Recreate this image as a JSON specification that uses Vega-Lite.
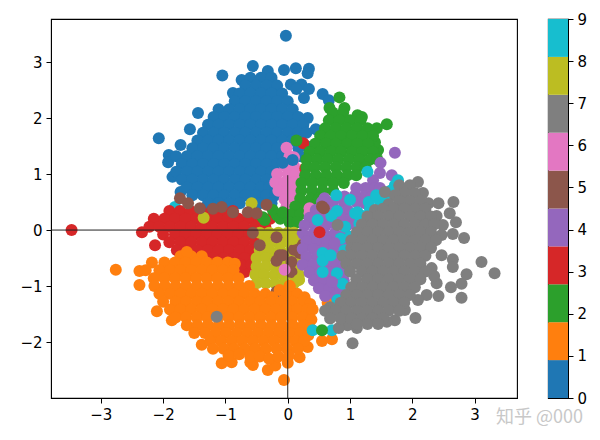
{"$schema":"https://vega.github.io/schema/vega-lite/v6.json","padding":{"left":19,"top":11,"right":0,"bottom":0},"background":"white","spacing":29,"title":{"text":"知乎 @000","orient":"bottom","anchor":"end","font":"Noto Sans CJK SC","fontSize":18,"fontWeight":"normal","color":"#c8c8c8","offset":-14,"dx":-4,"frame":"bounds"},"config":{"view":{"stroke":"#000","strokeWidth":1.1},"axis":{"grid":false,"labelFont":"DejaVu Sans","labelFontSize":15,"labelColor":"#000","tickColor":"#000","domainColor":"#000","tickSize":5,"labelPadding":4,"title":null}},"hconcat":[{"width":466,"height":379,"layer":[{"mark":{"type":"point","filled":true,"size":144,"opacity":1},"data":{"values":[
{"x":-0.03,"y":3.47,"c":0},{"x":-1.05,"y":2.76,"c":0},{"x":-0.56,"y":2.93,"c":0},{"x":-0.32,"y":2.84,"c":0},{"x":-0.06,"y":2.86,"c":0},{"x":-0.74,"y":2.68,"c":0},{"x":-0.88,"y":2.45,"c":0},{"x":-1.44,"y":2.09,"c":0},{"x":-1.57,"y":1.8,"c":0},{"x":-2.07,"y":1.64,"c":0},{"x":-1.72,"y":1.52,"c":0},{"x":-1.91,"y":1.34,"c":0},{"x":-1.92,"y":1.21,"c":0},{"x":-1.85,"y":0.95,"c":0},{"x":-1.72,"y":0.68,"c":0},{"x":0.13,"y":2.89,"c":0},{"x":0.34,"y":2.88,"c":0},{"x":0.32,"y":2.8,"c":0},{"x":0.05,"y":2.6,"c":0},{"x":0.22,"y":2.6,"c":0},{"x":0.34,"y":2.52,"c":0},{"x":0.26,"y":2.36,"c":0},{"x":0.14,"y":2.52,"c":0},{"x":0.56,"y":2.43,"c":0},{"x":0.66,"y":2.32,"c":0},{"x":0.32,"y":2.0,"c":0},{"x":0.45,"y":1.8,"c":0},{"x":0.3,"y":1.5,"c":0},
{"x":-0.6,"y":2.72,"c":0},{"x":-0.43,"y":2.72,"c":0},{"x":-0.26,"y":2.72,"c":0},
{"x":-0.68,"y":2.58,"c":0},{"x":-0.51,"y":2.58,"c":0},{"x":-0.34,"y":2.58,"c":0},{"x":-0.17,"y":2.58,"c":0},
{"x":-0.77,"y":2.44,"c":0},{"x":-0.6,"y":2.44,"c":0},{"x":-0.43,"y":2.44,"c":0},{"x":-0.26,"y":2.44,"c":0},{"x":-0.09,"y":2.44,"c":0},
{"x":-0.85,"y":2.3,"c":0},{"x":-0.68,"y":2.3,"c":0},{"x":-0.51,"y":2.3,"c":0},{"x":-0.34,"y":2.3,"c":0},{"x":-0.17,"y":2.3,"c":0},{"x":0,"y":2.3,"c":0},
{"x":-1.11,"y":2.16,"c":0},{"x":-0.94,"y":2.16,"c":0},{"x":-0.77,"y":2.16,"c":0},{"x":-0.6,"y":2.16,"c":0},{"x":-0.43,"y":2.16,"c":0},{"x":-0.26,"y":2.16,"c":0},{"x":-0.09,"y":2.16,"c":0},{"x":0.08,"y":2.16,"c":0},
{"x":-1.19,"y":2.02,"c":0},{"x":-1.02,"y":2.02,"c":0},{"x":-0.85,"y":2.02,"c":0},{"x":-0.68,"y":2.02,"c":0},{"x":-0.51,"y":2.02,"c":0},{"x":-0.34,"y":2.02,"c":0},{"x":-0.17,"y":2.02,"c":0},{"x":0,"y":2.02,"c":0},{"x":0.17,"y":2.02,"c":0},
{"x":-1.28,"y":1.88,"c":0},{"x":-1.11,"y":1.88,"c":0},{"x":-0.94,"y":1.88,"c":0},{"x":-0.77,"y":1.88,"c":0},{"x":-0.6,"y":1.88,"c":0},{"x":-0.43,"y":1.88,"c":0},{"x":-0.26,"y":1.88,"c":0},{"x":-0.09,"y":1.88,"c":0},{"x":0.08,"y":1.88,"c":0},{"x":0.25,"y":1.88,"c":0},
{"x":-1.36,"y":1.74,"c":0},{"x":-1.19,"y":1.74,"c":0},{"x":-1.02,"y":1.74,"c":0},{"x":-0.85,"y":1.74,"c":0},{"x":-0.68,"y":1.74,"c":0},{"x":-0.51,"y":1.74,"c":0},{"x":-0.34,"y":1.74,"c":0},{"x":-0.17,"y":1.74,"c":0},{"x":0,"y":1.74,"c":0},{"x":0.17,"y":1.74,"c":0},{"x":0.3,"y":1.74,"c":0},
{"x":-1.45,"y":1.6,"c":0},{"x":-1.28,"y":1.6,"c":0},{"x":-1.11,"y":1.6,"c":0},{"x":-0.94,"y":1.6,"c":0},{"x":-0.77,"y":1.6,"c":0},{"x":-0.6,"y":1.6,"c":0},{"x":-0.43,"y":1.6,"c":0},{"x":-0.26,"y":1.6,"c":0},{"x":-0.09,"y":1.6,"c":0},{"x":0.08,"y":1.6,"c":0},{"x":0.2,"y":1.6,"c":0},
{"x":-1.53,"y":1.46,"c":0},{"x":-1.36,"y":1.46,"c":0},{"x":-1.19,"y":1.46,"c":0},{"x":-1.02,"y":1.46,"c":0},{"x":-0.85,"y":1.46,"c":0},{"x":-0.68,"y":1.46,"c":0},{"x":-0.51,"y":1.46,"c":0},{"x":-0.34,"y":1.46,"c":0},{"x":-0.17,"y":1.46,"c":0},{"x":0.17,"y":1.46,"c":0},
{"x":-1.79,"y":1.32,"c":0},{"x":-1.62,"y":1.32,"c":0},{"x":-1.45,"y":1.32,"c":0},{"x":-1.28,"y":1.32,"c":0},{"x":-1.11,"y":1.32,"c":0},{"x":-0.94,"y":1.32,"c":0},{"x":-0.77,"y":1.32,"c":0},{"x":-0.6,"y":1.32,"c":0},{"x":-0.43,"y":1.32,"c":0},{"x":-0.26,"y":1.32,"c":0},{"x":-0.09,"y":1.32,"c":0},{"x":0.2,"y":1.32,"c":0},
{"x":-1.7,"y":1.18,"c":0},{"x":-1.53,"y":1.18,"c":0},{"x":-1.36,"y":1.18,"c":0},{"x":-1.19,"y":1.18,"c":0},{"x":-1.02,"y":1.18,"c":0},{"x":-0.85,"y":1.18,"c":0},{"x":-0.68,"y":1.18,"c":0},{"x":-0.51,"y":1.18,"c":0},{"x":-0.34,"y":1.18,"c":0},{"x":-0.17,"y":1.18,"c":0},
{"x":-1.79,"y":1.04,"c":0},{"x":-1.62,"y":1.04,"c":0},{"x":-1.45,"y":1.04,"c":0},{"x":-1.28,"y":1.04,"c":0},{"x":-1.11,"y":1.04,"c":0},{"x":-0.94,"y":1.04,"c":0},{"x":-0.77,"y":1.04,"c":0},{"x":-0.6,"y":1.04,"c":0},{"x":-0.43,"y":1.04,"c":0},{"x":-0.26,"y":1.04,"c":0},
{"x":-1.7,"y":0.9,"c":0},{"x":-1.53,"y":0.9,"c":0},{"x":-1.36,"y":0.9,"c":0},{"x":-1.19,"y":0.9,"c":0},{"x":-1.02,"y":0.9,"c":0},{"x":-0.85,"y":0.9,"c":0},{"x":-0.68,"y":0.9,"c":0},{"x":-0.51,"y":0.9,"c":0},{"x":-0.34,"y":0.9,"c":0},
{"x":-1.62,"y":0.76,"c":0},{"x":-1.45,"y":0.76,"c":0},{"x":-1.28,"y":0.76,"c":0},{"x":-1.11,"y":0.76,"c":0},{"x":-0.94,"y":0.76,"c":0},{"x":-0.77,"y":0.76,"c":0},{"x":-0.6,"y":0.76,"c":0},{"x":-0.43,"y":0.76,"c":0},{"x":-0.3,"y":0.76,"c":0},
{"x":-1.53,"y":0.62,"c":0},{"x":-1.36,"y":0.62,"c":0},{"x":-1.19,"y":0.62,"c":0},{"x":-1.02,"y":0.62,"c":0},{"x":-0.85,"y":0.62,"c":0},{"x":-0.68,"y":0.62,"c":0},{"x":-0.51,"y":0.62,"c":0},{"x":-0.34,"y":0.62,"c":0},{"x":-0.2,"y":0.62,"c":0},
{"x":-1.28,"y":0.48,"c":0},{"x":-1.11,"y":0.48,"c":0},{"x":-0.94,"y":0.48,"c":0},{"x":-0.77,"y":0.48,"c":0},{"x":-0.45,"y":0.48,"c":0},{"x":-0.26,"y":0.48,"c":0},
{"x":-0.02,"y":1.47,"c":6},{"x":0.03,"y":1.32,"c":6},{"x":0.1,"y":1.3,"c":6},{"x":-0.05,"y":1.15,"c":6},{"x":0.1,"y":1.15,"c":6},{"x":-0.17,"y":1.0,"c":6},{"x":0,"y":1.0,"c":6},{"x":0.13,"y":1.0,"c":6},{"x":-0.2,"y":0.85,"c":6},{"x":-0.05,"y":0.85,"c":6},{"x":0.1,"y":0.85,"c":6},{"x":-0.15,"y":0.7,"c":6},{"x":0,"y":0.7,"c":6},{"x":0.12,"y":0.7,"c":6},{"x":-0.05,"y":0.55,"c":6},{"x":0.05,"y":0.55,"c":6},{"x":0.14,"y":0.5,"c":6},{"x":-0.02,"y":0.42,"c":6},
{"x":-1.81,"y":0.41,"c":9},
{"x":-3.47,"y":0,"c":3},{"x":-2.34,"y":-0.04,"c":3},{"x":-2.13,"y":-0.27,"c":3},{"x":-0.69,"y":-0.75,"c":3},
{"x":-1.9,"y":0.34,"c":3},{"x":-1.73,"y":0.34,"c":3},{"x":-1.56,"y":0.34,"c":3},{"x":-1.39,"y":0.34,"c":3},{"x":-1.22,"y":0.34,"c":3},{"x":-1.05,"y":0.34,"c":3},{"x":-0.88,"y":0.34,"c":3},
{"x":-2.15,"y":0.2,"c":3},{"x":-1.98,"y":0.2,"c":3},{"x":-1.81,"y":0.2,"c":3},{"x":-1.64,"y":0.2,"c":3},{"x":-1.47,"y":0.2,"c":3},{"x":-1.3,"y":0.2,"c":3},{"x":-1.13,"y":0.2,"c":3},{"x":-0.96,"y":0.2,"c":3},{"x":-0.79,"y":0.2,"c":3},{"x":-0.62,"y":0.2,"c":3},{"x":-0.45,"y":0.2,"c":3},{"x":-0.28,"y":0.2,"c":3},
{"x":-2.22,"y":0.06,"c":3},{"x":-2.06,"y":0.06,"c":3},{"x":-1.89,"y":0.06,"c":3},{"x":-1.72,"y":0.06,"c":3},{"x":-1.55,"y":0.06,"c":3},{"x":-1.38,"y":0.06,"c":3},{"x":-1.21,"y":0.06,"c":3},{"x":-1.04,"y":0.06,"c":3},{"x":-0.87,"y":0.06,"c":3},{"x":-0.7,"y":0.06,"c":3},{"x":-0.53,"y":0.06,"c":3},{"x":-0.36,"y":0.06,"c":3},
{"x":-2.0,"y":-0.08,"c":3},{"x":-1.81,"y":-0.08,"c":3},{"x":-1.64,"y":-0.08,"c":3},{"x":-1.47,"y":-0.08,"c":3},{"x":-1.3,"y":-0.08,"c":3},{"x":-1.13,"y":-0.08,"c":3},{"x":-0.96,"y":-0.08,"c":3},{"x":-0.79,"y":-0.08,"c":3},{"x":-0.62,"y":-0.08,"c":3},{"x":-0.45,"y":-0.08,"c":3},
{"x":-1.9,"y":-0.22,"c":3},{"x":-1.72,"y":-0.22,"c":3},{"x":-1.55,"y":-0.22,"c":3},{"x":-1.38,"y":-0.22,"c":3},{"x":-1.21,"y":-0.22,"c":3},{"x":-1.04,"y":-0.22,"c":3},{"x":-0.87,"y":-0.22,"c":3},{"x":-0.7,"y":-0.22,"c":3},{"x":-0.53,"y":-0.22,"c":3},{"x":-0.36,"y":-0.22,"c":3},
{"x":-1.78,"y":-0.36,"c":3},{"x":-1.62,"y":-0.36,"c":3},{"x":-1.45,"y":-0.36,"c":3},{"x":-1.28,"y":-0.36,"c":3},{"x":-1.11,"y":-0.36,"c":3},{"x":-0.94,"y":-0.36,"c":3},{"x":-0.77,"y":-0.36,"c":3},{"x":-0.6,"y":-0.36,"c":3},{"x":-0.43,"y":-0.36,"c":3},
{"x":-1.2,"y":-0.5,"c":3},{"x":-1.03,"y":-0.5,"c":3},{"x":-0.86,"y":-0.5,"c":3},{"x":-0.69,"y":-0.5,"c":3},{"x":-0.52,"y":-0.5,"c":3},{"x":-0.75,"y":-0.62,"c":3},{"x":-0.58,"y":-0.62,"c":3},
{"x":0.25,"y":1.55,"c":3},{"x":0.28,"y":1.1,"c":3},
{"x":0.83,"y":2.37,"c":2},{"x":0.67,"y":2.18,"c":2},{"x":0.91,"y":2.18,"c":2},{"x":1.12,"y":2.05,"c":2},{"x":1.19,"y":2.02,"c":2},{"x":1.59,"y":1.89,"c":2},{"x":1.43,"y":1.82,"c":2},{"x":1.45,"y":1.43,"c":2},{"x":1.4,"y":1.57,"c":2},
{"x":0.72,"y":2.1,"c":2},{"x":0.89,"y":2.1,"c":2},
{"x":0.66,"y":1.96,"c":2},{"x":0.83,"y":1.96,"c":2},{"x":1.0,"y":1.96,"c":2},{"x":1.17,"y":1.96,"c":2},
{"x":0.6,"y":1.82,"c":2},{"x":0.77,"y":1.82,"c":2},{"x":0.94,"y":1.82,"c":2},{"x":1.11,"y":1.82,"c":2},{"x":1.28,"y":1.82,"c":2},
{"x":0.52,"y":1.68,"c":2},{"x":0.69,"y":1.68,"c":2},{"x":0.86,"y":1.68,"c":2},{"x":1.03,"y":1.68,"c":2},{"x":1.2,"y":1.68,"c":2},{"x":1.37,"y":1.68,"c":2},
{"x":0.44,"y":1.54,"c":2},{"x":0.61,"y":1.54,"c":2},{"x":0.78,"y":1.54,"c":2},{"x":0.95,"y":1.54,"c":2},{"x":1.12,"y":1.54,"c":2},{"x":1.29,"y":1.54,"c":2},
{"x":0.35,"y":1.4,"c":2},{"x":0.52,"y":1.4,"c":2},{"x":0.69,"y":1.4,"c":2},{"x":0.86,"y":1.4,"c":2},{"x":1.03,"y":1.4,"c":2},{"x":1.2,"y":1.4,"c":2},{"x":1.37,"y":1.4,"c":2},
{"x":0.3,"y":1.26,"c":2},{"x":0.47,"y":1.26,"c":2},{"x":0.64,"y":1.26,"c":2},{"x":0.81,"y":1.26,"c":2},{"x":0.98,"y":1.26,"c":2},{"x":1.15,"y":1.26,"c":2},{"x":1.32,"y":1.26,"c":2},{"x":1.44,"y":1.26,"c":2},
{"x":0.3,"y":1.12,"c":2},{"x":0.43,"y":1.12,"c":2},{"x":0.6,"y":1.12,"c":2},{"x":0.77,"y":1.12,"c":2},{"x":0.94,"y":1.12,"c":2},{"x":1.11,"y":1.12,"c":2},{"x":1.25,"y":1.12,"c":2},
{"x":0.28,"y":0.98,"c":2},{"x":0.45,"y":0.98,"c":2},{"x":0.62,"y":0.98,"c":2},{"x":0.79,"y":0.98,"c":2},{"x":0.96,"y":0.98,"c":2},{"x":1.1,"y":0.98,"c":2},
{"x":0.22,"y":0.84,"c":2},{"x":0.39,"y":0.84,"c":2},{"x":0.56,"y":0.84,"c":2},{"x":0.73,"y":0.84,"c":2},{"x":0.9,"y":0.84,"c":2},
{"x":0.22,"y":0.7,"c":2},{"x":0.39,"y":0.7,"c":2},{"x":0.56,"y":0.7,"c":2},{"x":0.73,"y":0.7,"c":2},
{"x":0.2,"y":0.56,"c":2},{"x":0.37,"y":0.56,"c":2},{"x":0.5,"y":0.56,"c":2},
{"x":0.12,"y":0.42,"c":2},{"x":0.29,"y":0.42,"c":2},{"x":0.42,"y":0.42,"c":2},{"x":0.05,"y":0.28,"c":2},{"x":0.2,"y":0.28,"c":2},{"x":0.03,"y":0.14,"c":2},{"x":0.15,"y":0.14,"c":2},
{"x":0.14,"y":1.6,"c":2},{"x":-0.24,"y":0.36,"c":2},{"x":-0.4,"y":0.23,"c":2},{"x":-0.37,"y":0.18,"c":2},{"x":-0.18,"y":0.27,"c":2},{"x":-0.12,"y":0.2,"c":2},{"x":-0.08,"y":0.32,"c":2},
{"x":-1.35,"y":0.22,"c":8},{"x":-0.58,"y":0.48,"c":8},
{"x":-0.45,"y":-0.05,"c":8},{"x":-0.3,"y":-0.05,"c":8},{"x":-0.15,"y":-0.05,"c":8},{"x":0,"y":-0.05,"c":8},{"x":0.1,"y":-0.05,"c":8},
{"x":-0.37,"y":-0.2,"c":8},{"x":-0.2,"y":-0.2,"c":8},{"x":-0.03,"y":-0.2,"c":8},{"x":0.12,"y":-0.2,"c":8},
{"x":-0.45,"y":-0.35,"c":8},{"x":-0.3,"y":-0.35,"c":8},{"x":-0.13,"y":-0.35,"c":8},{"x":0.05,"y":-0.35,"c":8},{"x":0.15,"y":-0.35,"c":8},
{"x":-0.5,"y":-0.5,"c":8},{"x":-0.35,"y":-0.5,"c":8},{"x":-0.2,"y":-0.5,"c":8},{"x":-0.03,"y":-0.5,"c":8},{"x":0.12,"y":-0.5,"c":8},
{"x":-0.5,"y":-0.65,"c":8},{"x":-0.35,"y":-0.65,"c":8},{"x":-0.2,"y":-0.65,"c":8},{"x":-0.05,"y":-0.65,"c":8},{"x":0.1,"y":-0.65,"c":8},
{"x":-0.52,"y":-0.8,"c":8},{"x":-0.38,"y":-0.8,"c":8},{"x":-0.22,"y":-0.8,"c":8},{"x":-0.08,"y":-0.8,"c":8},{"x":0.08,"y":-0.8,"c":8},{"x":0.18,"y":-0.8,"c":8},
{"x":-0.5,"y":-0.95,"c":8},{"x":-0.35,"y":-0.95,"c":8},{"x":-0.2,"y":-0.95,"c":8},{"x":-0.05,"y":-0.95,"c":8},{"x":0.1,"y":-0.95,"c":8},{"x":0.18,"y":-0.89,"c":8},
{"x":-0.18,"y":-1.1,"c":5},{"x":0.08,"y":-1.13,"c":5},
{"x":-2.76,"y":-0.71,"c":1},{"x":-2.38,"y":-0.98,"c":1},{"x":-2.1,"y":-1.45,"c":1},{"x":-1.86,"y":-1.61,"c":1},{"x":-1.38,"y":-2.05,"c":1},{"x":-1.06,"y":-2.38,"c":1},{"x":-0.9,"y":-2.36,"c":1},{"x":-0.56,"y":-2.41,"c":1},{"x":-0.32,"y":-2.5,"c":1},{"x":-0.06,"y":-2.68,"c":1},{"x":-0.6,"y":-2.36,"c":1},{"x":-0.2,"y":-2.42,"c":1},{"x":0,"y":-2.37,"c":1},{"x":0.19,"y":-2.27,"c":1},{"x":0.32,"y":-2.09,"c":1},{"x":0.55,"y":-1.98,"c":1},{"x":0.71,"y":-1.95,"c":1},{"x":0.64,"y":-1.3,"c":1},{"x":-2.38,"y":-0.73,"c":1},
{"x":-1.72,"y":-0.47,"c":1},{"x":-1.55,"y":-0.47,"c":1},{"x":-1.62,"y":-0.39,"c":1},{"x":-1.38,"y":-0.47,"c":1},
{"x":-2.18,"y":-0.58,"c":1},{"x":-1.98,"y":-0.58,"c":1},{"x":-1.81,"y":-0.58,"c":1},{"x":-1.64,"y":-0.58,"c":1},{"x":-1.47,"y":-0.58,"c":1},{"x":-1.3,"y":-0.58,"c":1},{"x":-1.13,"y":-0.58,"c":1},{"x":-0.96,"y":-0.58,"c":1},{"x":-0.85,"y":-0.6,"c":1},
{"x":-2.28,"y":-0.72,"c":1},{"x":-2.06,"y":-0.72,"c":1},{"x":-1.89,"y":-0.72,"c":1},{"x":-1.72,"y":-0.72,"c":1},{"x":-1.55,"y":-0.72,"c":1},{"x":-1.38,"y":-0.72,"c":1},{"x":-1.21,"y":-0.72,"c":1},{"x":-1.04,"y":-0.72,"c":1},{"x":-0.87,"y":-0.72,"c":1},
{"x":-2.15,"y":-0.86,"c":1},{"x":-1.98,"y":-0.86,"c":1},{"x":-1.81,"y":-0.86,"c":1},{"x":-1.64,"y":-0.86,"c":1},{"x":-1.47,"y":-0.86,"c":1},{"x":-1.3,"y":-0.86,"c":1},{"x":-1.13,"y":-0.86,"c":1},{"x":-0.96,"y":-0.86,"c":1},{"x":-0.79,"y":-0.86,"c":1},
{"x":-2.14,"y":-1.0,"c":1},{"x":-1.97,"y":-1.0,"c":1},{"x":-1.8,"y":-1.0,"c":1},{"x":-1.63,"y":-1.0,"c":1},{"x":-1.46,"y":-1.0,"c":1},{"x":-1.29,"y":-1.0,"c":1},{"x":-1.12,"y":-1.0,"c":1},{"x":-0.95,"y":-1.0,"c":1},{"x":-0.78,"y":-1.0,"c":1},{"x":-0.62,"y":-1.0,"c":1},{"x":-0.13,"y":-1.07,"c":1},{"x":0.03,"y":-1.0,"c":1},
{"x":-2.06,"y":-1.14,"c":1},{"x":-1.89,"y":-1.14,"c":1},{"x":-1.72,"y":-1.14,"c":1},{"x":-1.55,"y":-1.14,"c":1},{"x":-1.38,"y":-1.14,"c":1},{"x":-1.21,"y":-1.14,"c":1},{"x":-1.04,"y":-1.14,"c":1},{"x":-0.87,"y":-1.14,"c":1},{"x":-0.7,"y":-1.14,"c":1},{"x":-0.53,"y":-1.14,"c":1},{"x":-0.36,"y":-1.14,"c":1},{"x":-0.25,"y":-1.2,"c":1},{"x":-0.02,"y":-1.14,"c":1},{"x":0.15,"y":-1.14,"c":1},{"x":0.27,"y":-1.2,"c":1},
{"x":-2.0,"y":-1.28,"c":1},{"x":-1.8,"y":-1.28,"c":1},{"x":-1.63,"y":-1.28,"c":1},{"x":-1.46,"y":-1.28,"c":1},{"x":-1.29,"y":-1.28,"c":1},{"x":-1.12,"y":-1.28,"c":1},{"x":-0.95,"y":-1.28,"c":1},{"x":-0.78,"y":-1.28,"c":1},{"x":-0.61,"y":-1.28,"c":1},{"x":-0.44,"y":-1.28,"c":1},{"x":-0.27,"y":-1.28,"c":1},{"x":-0.1,"y":-1.28,"c":1},{"x":0.07,"y":-1.28,"c":1},{"x":0.24,"y":-1.28,"c":1},{"x":0.36,"y":-1.32,"c":1},
{"x":-1.89,"y":-1.42,"c":1},{"x":-1.72,"y":-1.42,"c":1},{"x":-1.55,"y":-1.42,"c":1},{"x":-1.38,"y":-1.42,"c":1},{"x":-1.21,"y":-1.42,"c":1},{"x":-1.04,"y":-1.42,"c":1},{"x":-0.87,"y":-1.42,"c":1},{"x":-0.7,"y":-1.42,"c":1},{"x":-0.53,"y":-1.42,"c":1},{"x":-0.36,"y":-1.42,"c":1},{"x":-0.19,"y":-1.42,"c":1},{"x":-0.02,"y":-1.42,"c":1},{"x":0.15,"y":-1.42,"c":1},{"x":0.32,"y":-1.42,"c":1},{"x":0.4,"y":-1.42,"c":1},
{"x":-1.8,"y":-1.56,"c":1},{"x":-1.63,"y":-1.56,"c":1},{"x":-1.46,"y":-1.56,"c":1},{"x":-1.29,"y":-1.56,"c":1},{"x":-1.12,"y":-1.56,"c":1},{"x":-0.95,"y":-1.56,"c":1},{"x":-0.78,"y":-1.56,"c":1},{"x":-0.61,"y":-1.56,"c":1},{"x":-0.44,"y":-1.56,"c":1},{"x":-0.27,"y":-1.56,"c":1},{"x":-0.1,"y":-1.56,"c":1},{"x":0.07,"y":-1.56,"c":1},{"x":0.24,"y":-1.56,"c":1},{"x":0.38,"y":-1.6,"c":1},
{"x":-1.62,"y":-1.7,"c":1},{"x":-1.45,"y":-1.7,"c":1},{"x":-1.28,"y":-1.7,"c":1},{"x":-1.11,"y":-1.7,"c":1},{"x":-0.94,"y":-1.7,"c":1},{"x":-0.77,"y":-1.7,"c":1},{"x":-0.6,"y":-1.7,"c":1},{"x":-0.43,"y":-1.7,"c":1},{"x":-0.26,"y":-1.7,"c":1},{"x":-0.09,"y":-1.7,"c":1},{"x":0.08,"y":-1.7,"c":1},{"x":0.25,"y":-1.7,"c":1},{"x":0.36,"y":-1.75,"c":1},
{"x":-1.5,"y":-1.84,"c":1},{"x":-1.33,"y":-1.84,"c":1},{"x":-1.16,"y":-1.84,"c":1},{"x":-0.99,"y":-1.84,"c":1},{"x":-0.82,"y":-1.84,"c":1},{"x":-0.65,"y":-1.84,"c":1},{"x":-0.48,"y":-1.84,"c":1},{"x":-0.31,"y":-1.84,"c":1},{"x":-0.14,"y":-1.84,"c":1},{"x":0.03,"y":-1.84,"c":1},{"x":0.2,"y":-1.84,"c":1},{"x":0.33,"y":-1.88,"c":1},
{"x":-1.24,"y":-1.98,"c":1},{"x":-1.07,"y":-1.98,"c":1},{"x":-0.9,"y":-1.98,"c":1},{"x":-0.73,"y":-1.98,"c":1},{"x":-0.56,"y":-1.98,"c":1},{"x":-0.39,"y":-1.98,"c":1},{"x":-0.22,"y":-1.98,"c":1},{"x":-0.05,"y":-1.98,"c":1},{"x":0.12,"y":-1.98,"c":1},{"x":0.26,"y":-1.98,"c":1},
{"x":-1.2,"y":-2.12,"c":1},{"x":-1.03,"y":-2.12,"c":1},{"x":-0.86,"y":-2.12,"c":1},{"x":-0.69,"y":-2.12,"c":1},{"x":-0.52,"y":-2.12,"c":1},{"x":-0.35,"y":-2.12,"c":1},{"x":-0.18,"y":-2.12,"c":1},{"x":-0.01,"y":-2.12,"c":1},{"x":0.16,"y":-2.12,"c":1},
{"x":-0.95,"y":-2.24,"c":1},{"x":-0.78,"y":-2.22,"c":1},{"x":-0.6,"y":-2.26,"c":1},{"x":-0.45,"y":-2.26,"c":1},{"x":-0.3,"y":-2.3,"c":1},{"x":-0.15,"y":-2.26,"c":1},{"x":0.02,"y":-2.24,"c":1},
{"x":-1.73,"y":0.57,"c":5},{"x":-1.6,"y":0.48,"c":5},{"x":-1.41,"y":0.39,"c":5},{"x":-1.06,"y":0.41,"c":5},{"x":-0.88,"y":0.32,"c":5},{"x":-0.64,"y":0.32,"c":5},{"x":-0.34,"y":0.45,"c":5},{"x":-0.56,"y":-0.05,"c":5},{"x":-0.45,"y":-0.27,"c":5},{"x":-0.18,"y":-0.13,"c":5},{"x":-0.13,"y":-0.45,"c":5},{"x":-0.18,"y":-0.55,"c":5},{"x":0.22,"y":-0.27,"c":5},{"x":0.19,"y":-0.41,"c":5},{"x":-0.08,"y":-0.45,"c":5},{"x":0.06,"y":-0.57,"c":5},{"x":0.06,"y":-0.75,"c":5},{"x":-1.2,"y":0.38,"c":5},{"x":-0.5,"y":0.3,"c":5},{"x":0.1,"y":-0.35,"c":5},
{"x":-0.05,"y":-0.71,"c":6},{"x":0.35,"y":0.3,"c":6},{"x":0.35,"y":0.39,"c":6},
{"x":1.72,"y":1.38,"c":4},{"x":1.49,"y":1.2,"c":4},{"x":1.48,"y":1.02,"c":4},{"x":1.67,"y":0.98,"c":4},{"x":1.37,"y":0.89,"c":4},{"x":1.25,"y":0.75,"c":4},{"x":1.4,"y":0.75,"c":4},{"x":1.48,"y":0.75,"c":4},{"x":1.1,"y":0.75,"c":4},{"x":1.23,"y":0.6,"c":4},{"x":1.35,"y":0.6,"c":4},{"x":1.08,"y":0.62,"c":4},{"x":0.91,"y":0.6,"c":4},{"x":0.59,"y":0.57,"c":4},
{"x":0.55,"y":0.5,"c":4},{"x":0.72,"y":0.5,"c":4},{"x":0.9,"y":0.5,"c":4},{"x":1.1,"y":0.5,"c":4},{"x":1.24,"y":0.48,"c":4},
{"x":0.45,"y":0.36,"c":4},{"x":0.62,"y":0.36,"c":4},{"x":0.79,"y":0.36,"c":4},{"x":0.96,"y":0.36,"c":4},
{"x":0.35,"y":0.22,"c":4},{"x":0.52,"y":0.22,"c":4},{"x":0.69,"y":0.22,"c":4},{"x":0.86,"y":0.22,"c":4},{"x":1.03,"y":0.22,"c":4},
{"x":0.27,"y":0.08,"c":4},{"x":0.44,"y":0.08,"c":4},{"x":0.61,"y":0.08,"c":4},{"x":0.78,"y":0.08,"c":4},{"x":0.95,"y":0.08,"c":4},{"x":1.1,"y":0.08,"c":4},
{"x":0.24,"y":-0.06,"c":4},{"x":0.41,"y":-0.06,"c":4},{"x":0.58,"y":-0.06,"c":4},{"x":0.75,"y":-0.06,"c":4},{"x":0.92,"y":-0.06,"c":4},
{"x":0.3,"y":-0.2,"c":4},{"x":0.47,"y":-0.2,"c":4},{"x":0.64,"y":-0.2,"c":4},{"x":0.81,"y":-0.2,"c":4},{"x":0.98,"y":-0.2,"c":4},
{"x":0.24,"y":-0.34,"c":4},{"x":0.41,"y":-0.34,"c":4},{"x":0.58,"y":-0.34,"c":4},{"x":0.75,"y":-0.34,"c":4},{"x":0.9,"y":-0.34,"c":4},
{"x":0.3,"y":-0.48,"c":4},{"x":0.47,"y":-0.48,"c":4},{"x":0.64,"y":-0.48,"c":4},{"x":0.81,"y":-0.48,"c":4},
{"x":0.24,"y":-0.62,"c":4},{"x":0.41,"y":-0.62,"c":4},{"x":0.58,"y":-0.62,"c":4},{"x":0.75,"y":-0.62,"c":4},{"x":0.9,"y":-0.62,"c":4},
{"x":0.35,"y":-0.76,"c":4},{"x":0.52,"y":-0.76,"c":4},{"x":0.69,"y":-0.76,"c":4},{"x":0.86,"y":-0.76,"c":4},
{"x":0.42,"y":-0.9,"c":4},{"x":0.59,"y":-0.9,"c":4},{"x":0.76,"y":-0.9,"c":4},{"x":0.9,"y":-0.9,"c":4},
{"x":0.5,"y":-1.04,"c":4},{"x":0.67,"y":-1.04,"c":4},{"x":0.84,"y":-1.04,"c":4},{"x":0.6,"y":-1.18,"c":4},{"x":0.77,"y":-1.18,"c":4},{"x":0.9,"y":-1.18,"c":4},
{"x":0.55,"y":0.42,"c":5},
{"x":1.28,"y":1.04,"c":9},{"x":0.78,"y":0.62,"c":9},{"x":1.0,"y":0.54,"c":9},{"x":0.79,"y":0.34,"c":9},{"x":1.72,"y":0.8,"c":9},{"x":1.77,"y":0.89,"c":9},{"x":1.65,"y":0.7,"c":9},{"x":1.55,"y":0.55,"c":9},{"x":1.48,"y":0.5,"c":9},{"x":1.12,"y":0.32,"c":9},{"x":1.32,"y":0.38,"c":9},{"x":1.2,"y":0.25,"c":9},{"x":1.3,"y":0.5,"c":9},{"x":1.15,"y":0.12,"c":9},{"x":1.42,"y":0.62,"c":9},{"x":1.6,"y":0.62,"c":9},{"x":0.48,"y":0.18,"c":9},{"x":1.0,"y":-0.12,"c":9},{"x":1.08,"y":0.3,"c":9},{"x":0.56,"y":-0.41,"c":9},{"x":0.56,"y":-0.55,"c":9},{"x":0.56,"y":-0.75,"c":9},{"x":0.88,"y":-0.96,"c":9},{"x":0.79,"y":-0.77,"c":9},{"x":0.91,"y":-0.36,"c":9},{"x":0.69,"y":-0.45,"c":9},{"x":0.8,"y":-1.25,"c":9},{"x":1.27,"y":-1.28,"c":9},{"x":0.4,"y":-1.79,"c":9},{"x":0.71,"y":-1.79,"c":9},{"x":1.1,"y":-1.07,"c":9},{"x":0.92,"y":0.06,"c":9},{"x":0.85,"y":-0.15,"c":9},{"x":0.7,"y":0.25,"c":9},
{"x":0.75,"y":-0.23,"c":4},{"x":0.71,"y":-0.93,"c":4},
{"x":2.09,"y":0.86,"c":7},{"x":2.17,"y":0.66,"c":7},{"x":2.26,"y":0.48,"c":7},{"x":2.42,"y":0.48,"c":7},{"x":2.66,"y":0.5,"c":7},{"x":2.6,"y":0.3,"c":7},{"x":2.39,"y":0.25,"c":7},{"x":2.7,"y":0.14,"c":7},{"x":2.49,"y":0.09,"c":7},{"x":2.83,"y":-0.14,"c":7},{"x":2.65,"y":-0.07,"c":7},{"x":2.47,"y":-0.09,"c":7},{"x":2.47,"y":-0.45,"c":7},{"x":2.65,"y":-0.52,"c":7},{"x":2.65,"y":-0.66,"c":7},{"x":3.11,"y":-0.57,"c":7},{"x":3.32,"y":-0.77,"c":7},{"x":2.87,"y":-0.79,"c":7},{"x":2.79,"y":-0.96,"c":7},{"x":2.62,"y":-1.02,"c":7},{"x":2.79,"y":-1.21,"c":7},{"x":2.42,"y":-1.18,"c":7},{"x":2.23,"y":-1.16,"c":7},{"x":2.09,"y":-1.25,"c":7},{"x":2.39,"y":-0.95,"c":7},{"x":2.31,"y":-0.68,"c":7},{"x":2.35,"y":-0.82,"c":7},{"x":2.05,"y":-1.57,"c":7},{"x":1.88,"y":-1.43,"c":7},{"x":1.72,"y":-1.61,"c":7},{"x":1.59,"y":-1.64,"c":7},{"x":1.11,"y":-1.75,"c":7},{"x":0.96,"y":-1.7,"c":7},{"x":1.04,"y":-2.02,"c":7},{"x":0.82,"y":-1.75,"c":7},{"x":1.56,"y":0.68,"c":7},
{"x":1.79,"y":0.8,"c":7},{"x":1.96,"y":0.8,"c":7},
{"x":1.87,"y":0.66,"c":7},{"x":2.04,"y":0.66,"c":7},{"x":1.72,"y":0.62,"c":7},
{"x":1.62,"y":0.46,"c":7},{"x":1.79,"y":0.52,"c":7},{"x":1.96,"y":0.52,"c":7},{"x":2.13,"y":0.52,"c":7},
{"x":1.4,"y":0.36,"c":7},{"x":1.53,"y":0.38,"c":7},{"x":1.7,"y":0.38,"c":7},{"x":1.87,"y":0.38,"c":7},{"x":2.04,"y":0.38,"c":7},{"x":2.21,"y":0.38,"c":7},
{"x":1.28,"y":0.24,"c":7},{"x":1.45,"y":0.24,"c":7},{"x":1.62,"y":0.24,"c":7},{"x":1.79,"y":0.24,"c":7},{"x":1.96,"y":0.24,"c":7},{"x":2.13,"y":0.24,"c":7},{"x":2.3,"y":0.24,"c":7},
{"x":1.19,"y":0.1,"c":7},{"x":1.36,"y":0.1,"c":7},{"x":1.53,"y":0.1,"c":7},{"x":1.7,"y":0.1,"c":7},{"x":1.87,"y":0.1,"c":7},{"x":2.04,"y":0.1,"c":7},{"x":2.21,"y":0.1,"c":7},{"x":2.35,"y":0.1,"c":7},
{"x":1.11,"y":-0.04,"c":7},{"x":1.28,"y":-0.04,"c":7},{"x":1.45,"y":-0.04,"c":7},{"x":1.62,"y":-0.04,"c":7},{"x":1.79,"y":-0.04,"c":7},{"x":1.96,"y":-0.04,"c":7},{"x":2.13,"y":-0.04,"c":7},{"x":2.3,"y":-0.04,"c":7},
{"x":1.02,"y":-0.18,"c":7},{"x":1.19,"y":-0.18,"c":7},{"x":1.36,"y":-0.18,"c":7},{"x":1.53,"y":-0.18,"c":7},{"x":1.7,"y":-0.18,"c":7},{"x":1.87,"y":-0.18,"c":7},{"x":2.04,"y":-0.18,"c":7},{"x":2.21,"y":-0.18,"c":7},{"x":2.38,"y":-0.18,"c":7},
{"x":1.02,"y":-0.32,"c":7},{"x":1.11,"y":-0.32,"c":7},{"x":1.28,"y":-0.32,"c":7},{"x":1.45,"y":-0.32,"c":7},{"x":1.62,"y":-0.32,"c":7},{"x":1.79,"y":-0.32,"c":7},{"x":1.96,"y":-0.32,"c":7},{"x":2.13,"y":-0.32,"c":7},{"x":2.3,"y":-0.32,"c":7},
{"x":0.88,"y":-0.46,"c":7},{"x":1.02,"y":-0.46,"c":7},{"x":1.19,"y":-0.46,"c":7},{"x":1.36,"y":-0.46,"c":7},{"x":1.53,"y":-0.46,"c":7},{"x":1.7,"y":-0.46,"c":7},{"x":1.87,"y":-0.46,"c":7},{"x":2.04,"y":-0.46,"c":7},{"x":2.21,"y":-0.46,"c":7},
{"x":0.94,"y":-0.6,"c":7},{"x":1.11,"y":-0.6,"c":7},{"x":1.28,"y":-0.6,"c":7},{"x":1.45,"y":-0.6,"c":7},{"x":1.62,"y":-0.6,"c":7},{"x":1.79,"y":-0.6,"c":7},{"x":1.96,"y":-0.6,"c":7},{"x":2.13,"y":-0.6,"c":7},
{"x":1.0,"y":-0.74,"c":7},{"x":1.19,"y":-0.74,"c":7},{"x":1.36,"y":-0.74,"c":7},{"x":1.53,"y":-0.74,"c":7},{"x":1.7,"y":-0.74,"c":7},{"x":1.87,"y":-0.74,"c":7},{"x":2.04,"y":-0.74,"c":7},{"x":2.21,"y":-0.74,"c":7},
{"x":1.1,"y":-0.88,"c":7},{"x":1.28,"y":-0.88,"c":7},{"x":1.45,"y":-0.88,"c":7},{"x":1.62,"y":-0.88,"c":7},{"x":1.79,"y":-0.88,"c":7},{"x":1.96,"y":-0.88,"c":7},{"x":2.13,"y":-0.88,"c":7},
{"x":1.02,"y":-1.02,"c":7},{"x":1.19,"y":-1.02,"c":7},{"x":1.36,"y":-1.02,"c":7},{"x":1.53,"y":-1.02,"c":7},{"x":1.7,"y":-1.02,"c":7},{"x":1.87,"y":-1.02,"c":7},{"x":2.04,"y":-1.02,"c":7},
{"x":0.94,"y":-1.16,"c":7},{"x":1.11,"y":-1.16,"c":7},{"x":1.28,"y":-1.16,"c":7},{"x":1.45,"y":-1.16,"c":7},{"x":1.62,"y":-1.16,"c":7},{"x":1.79,"y":-1.16,"c":7},{"x":1.96,"y":-1.16,"c":7},
{"x":0.68,"y":-1.38,"c":7},{"x":0.85,"y":-1.3,"c":7},{"x":1.02,"y":-1.3,"c":7},{"x":1.19,"y":-1.3,"c":7},{"x":1.36,"y":-1.3,"c":7},{"x":1.53,"y":-1.3,"c":7},{"x":1.7,"y":-1.3,"c":7},{"x":1.87,"y":-1.3,"c":7},
{"x":0.6,"y":-1.44,"c":7},{"x":0.77,"y":-1.44,"c":7},{"x":0.94,"y":-1.44,"c":7},{"x":1.11,"y":-1.44,"c":7},{"x":1.28,"y":-1.44,"c":7},{"x":1.45,"y":-1.44,"c":7},{"x":1.62,"y":-1.44,"c":7},{"x":1.79,"y":-1.44,"c":7},
{"x":0.68,"y":-1.58,"c":7},{"x":0.85,"y":-1.58,"c":7},{"x":1.02,"y":-1.58,"c":7},{"x":1.19,"y":-1.58,"c":7},{"x":1.36,"y":-1.58,"c":7},{"x":1.53,"y":-1.58,"c":7},
{"x":1.11,"y":-1.68,"c":7},{"x":1.28,"y":-1.68,"c":7},{"x":1.45,"y":-1.68,"c":7},
{"x":0.8,"y":0.09,"c":7},{"x":-1.14,"y":-1.55,"c":7},
{"x":0.08,"y":1.25,"c":0},{"x":-0.08,"y":1.2,"c":0},
{"x":0.51,"y":-0.04,"c":3},{"x":0.58,"y":0.39,"c":5},{"x":0.55,"y":-1.79,"c":2},{"x":0.08,"y":-0.16,"c":8},{"x":0.18,"y":-0.89,"c":8},{"x":0.03,"y":-1.0,"c":1}
]},"encoding":{"x":{"field":"x","type":"quantitative","scale":{"domain":[-3.8,3.68],"nice":false,"zero":false},"axis":{"values":[-3,-2,-1,0,1,2,3],"format":"d"}},"y":{"field":"y","type":"quantitative","scale":{"domain":[-3.0,3.77],"nice":false,"zero":false},"axis":{"values":[-2,-1,0,1,2,3],"format":"d"}},"color":{"field":"c","type":"nominal","legend":null,"scale":{"domain":[0,1,2,3,4,5,6,7,8,9],"range":["#1f77b4","#ff7f0e","#2ca02c","#d62728","#9467bd","#8c564b","#e377c2","#7f7f7f","#bcbd22","#17becf"]}}}},
{"mark":{"type":"rule","color":"#222","strokeWidth":1},"data":{"values":[{"a":-3.8,"b":0.22,"p":0}]},"encoding":{"x":{"field":"a","type":"quantitative"},"x2":{"field":"b"},"y":{"field":"p","type":"quantitative"}}},
{"mark":{"type":"rule","color":"#222","strokeWidth":1},"data":{"values":[{"a":-3.0,"b":0.98,"p":0}]},"encoding":{"y":{"field":"a","type":"quantitative"},"y2":{"field":"b"},"x":{"field":"p","type":"quantitative"}}}
]},
{"width":20,"height":379,"data":{"values":[{"c":0,"v0":0,"v1":0.9},{"c":1,"v0":0.9,"v1":1.8},{"c":2,"v0":1.8,"v1":2.7},{"c":3,"v0":2.7,"v1":3.6},{"c":4,"v0":3.6,"v1":4.5},{"c":5,"v0":4.5,"v1":5.4},{"c":6,"v0":5.4,"v1":6.3},{"c":7,"v0":6.3,"v1":7.2},{"c":8,"v0":7.2,"v1":8.1},{"c":9,"v0":8.1,"v1":9}]},"mark":{"type":"rect"},"encoding":{"y":{"field":"v0","type":"quantitative","scale":{"domain":[0,9],"nice":false},"axis":{"orient":"right","values":[0,1,2,3,4,5,6,7,8,9],"format":"d"}},"y2":{"field":"v1"},"color":{"field":"c","type":"nominal","legend":null,"scale":{"domain":[0,1,2,3,4,5,6,7,8,9],"range":["#1f77b4","#ff7f0e","#2ca02c","#d62728","#9467bd","#8c564b","#e377c2","#7f7f7f","#bcbd22","#17becf"]}}}}
]}
